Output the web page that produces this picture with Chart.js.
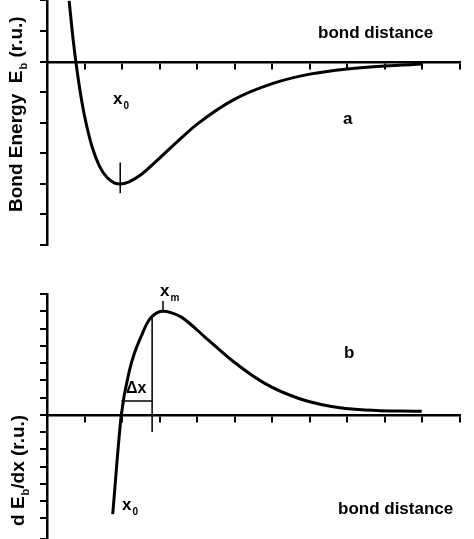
<!DOCTYPE html>
<html><head><meta charset="utf-8">
<script src="https://cdn.jsdelivr.net/npm/chart.js@4/dist/chart.umd.min.js"></script>
<style>
body{margin:0;background:#fff}
canvas{display:block}
</style></head>
<body>
<canvas id="topChart" width="474" height="270"></canvas>
<canvas id="bottomChart" width="474" height="269"></canvas>
<script>
// bond distance (tick units) and energy
const distA = [0.59, 0.7, 0.8, 0.9, 1.0, 1.2, 1.4, 1.6, 1.8, 1.95, 2.2, 2.5, 3.0, 3.5, 4.0, 5.0, 6.0, 7.0, 8.0, 9.0, 10.0];
const energy = [2.0, 0.69, -0.28, -1.10, -1.77, -2.78, -3.42, -3.79, -3.97, -4.0, -3.92, -3.70, -3.15, -2.58, -2.04, -1.22, -0.71, -0.40, -0.23, -0.13, -0.07];
// panel b: derivative
const distB = [1.75, 1.98, 2.2, 2.35, 2.52, 2.65, 2.78, 2.95, 3.09, 3.3, 3.58, 4.2, 4.92, 5.8, 6.69, 7.58, 8.47, 9.98];
const force = [-2.88, 0, 1.30, 1.85, 2.30, 2.62, 2.83, 2.97, 3.0, 2.96, 2.83, 2.26, 1.58, 0.91, 0.48, 0.24, 0.14, 0.1];

const FONT = 'bold 17px "Liberation Sans", Arial, sans-serif';

function axisOpts(min, max, step, isX) {
    return {
        type: 'linear', min: min, max: max,
        position: isX ? { y: 0 } : 'left',
        ticks: { display: false, stepSize: step },
        grid: { drawOnChartArea: false, drawTicks: true, tickLength: isX ? 6 : 7, color: '#000', lineWidth: 2 },
        border: { color: '#000', width: 2.5 }
    };
}

function textPlugin(draw) {
    return {
        id: 'txt',
        afterDraw(chart) {
            const ctx = chart.ctx;
            ctx.save();
            ctx.fillStyle = '#000';
            ctx.strokeStyle = '#000';
            draw(ctx, chart.scales.x, chart.scales.y);
            ctx.restore();
        }
    };
}

function sub(ctx, main, s, x, y, size) {
    ctx.font = 'bold ' + size + 'px "Liberation Sans", Arial, sans-serif';
    ctx.fillText(main, x, y);
    const w = ctx.measureText(main).width;
    ctx.font = 'bold ' + Math.round(size * 0.6) + 'px "Liberation Sans", Arial, sans-serif';
    ctx.fillText(s, x + w + 1, y + 5);
    return w + 1 + ctx.measureText(s).width;
}

function makeChart(id, xs, ys, yMin, yMax, yStep, pad, draw) {
    new Chart(document.getElementById(id), {
        type: 'line',
        data: {
            datasets: [{
                data: xs.map((x, i) => ({ x: x, y: ys[i] })),
                borderColor: '#000', borderWidth: 3, pointRadius: 0,
                tension: 0.4, cubicInterpolationMode: 'monotone'
            }]
        },
        options: {
            responsive: false, animation: false, devicePixelRatio: 1,
            layout: { padding: pad },
            plugins: { legend: { display: false }, tooltip: { enabled: false } },
            scales: { x: axisOpts(0, 11, 1, true), y: axisOpts(yMin, yMax, yStep, false) }
        },
        plugins: [textPlugin(draw)]
    });
}

makeChart('topChart', distA, energy, -6, 2.03, 1, { left: 40, top: 0, right: 14, bottom: 25 }, (ctx, x, y) => {
    ctx.font = FONT;
    ctx.textBaseline = 'alphabetic';
    ctx.fillText('bond distance', 318, 38);
    ctx.fillText('a', 343, 124);
    sub(ctx, 'x', '0', 113, 104, 17);
    // marker at the minimum
    ctx.lineWidth = 1.5;
    ctx.beginPath();
    ctx.moveTo(x.getPixelForValue(1.95), y.getPixelForValue(-3.3));
    ctx.lineTo(x.getPixelForValue(1.95), y.getPixelForValue(-4.3));
    ctx.stroke();
    // y title
    ctx.save();
    ctx.translate(22, 212);
    ctx.rotate(-Math.PI / 2);
    let w = sub(ctx, 'Bond Energy  E', 'b', 0, 0, 19);
    ctx.font = 'bold 19px "Liberation Sans", Arial, sans-serif';
    ctx.fillText(' (r.u.)', w, 0);
    ctx.restore();
});

makeChart('bottomChart', distB, force, -3.6, 3.5, 0.5, { left: 40, top: 24, right: 14, bottom: 0 }, (ctx, x, y) => {
    ctx.font = FONT;
    ctx.fillText('bond distance', 338, 244);
    ctx.fillText('b', 344, 88);
    sub(ctx, 'x', 'm', 160, 26, 17);
    sub(ctx, 'x', '0', 122, 240, 17);
    ctx.font = 'bold 16px "Liberation Sans", Arial, sans-serif';
    ctx.fillText('\u0394x', 126, 123);
    ctx.lineWidth = 1.5;
    ctx.beginPath();
    // xm marker
    ctx.moveTo(x.getPixelForValue(3.09), y.getPixelForValue(3.0));
    ctx.lineTo(x.getPixelForValue(3.09), y.getPixelForValue(3.3));
    // vertical line at inflection
    ctx.moveTo(x.getPixelForValue(2.8), y.getPixelForValue(2.83));
    ctx.lineTo(x.getPixelForValue(2.8), y.getPixelForValue(-0.5));
    // delta x bar
    ctx.moveTo(x.getPixelForValue(1.98), y.getPixelForValue(0.4));
    ctx.lineTo(x.getPixelForValue(2.8), y.getPixelForValue(0.4));
    ctx.stroke();
    ctx.save();
    ctx.translate(24, 256);
    ctx.rotate(-Math.PI / 2);
    let w = sub(ctx, 'd E', 'b', 0, 0, 19);
    ctx.font = 'bold 19px "Liberation Sans", Arial, sans-serif';
    ctx.fillText('/dx (r.u.)', w, 0);
    ctx.restore();
});
</script>
</body></html>
